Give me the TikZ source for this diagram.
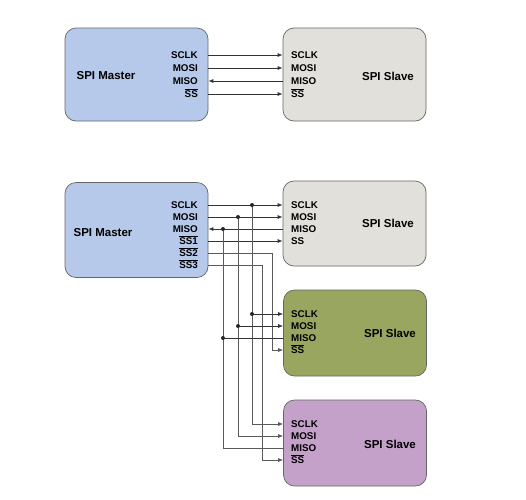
\documentclass[tikz,border=0pt]{standalone}
\usepackage{fontspec}
\setmainfont{Liberation Sans}
\usetikzlibrary{arrows.meta}
\definecolor{masterblue}{RGB}{182,201,234}
\definecolor{slavegrey}{RGB}{226,224,218}
\definecolor{slavegreen}{RGB}{152,166,96}
\definecolor{slavepurple}{RGB}{196,161,201}

\begin{document}
\begin{tikzpicture}[x=1pt,y=-1pt,>={Latex[length=5pt,width=4pt]},line cap=round,
  box/.style={draw=black!60,line width=0.7pt,rounded corners=11pt,minimum width=143pt,inner sep=0pt},
  title/.style={font=\fontsize{11.5}{13}\selectfont\bfseries,inner sep=0pt},
  pinr/.style={font=\fontsize{9.8}{11}\selectfont\bfseries,anchor=east,inner sep=0pt,text height=7pt,text depth=0pt},
  pinl/.style={pinr,anchor=west},
  wire/.style={black!80,line width=0.75pt},
  bus/.style={black!65,line width=0.7pt},
  dot/.style={fill=black!85}]
\useasboundingbox (0,0) rectangle (526,499);

% one master, one slave
\node[box,fill=masterblue,minimum height=93pt] (m1) at (136.5,74.5) {};
\node[box,fill=slavegrey,minimum height=93pt] (s1) at (354.5,74.5) {};
\node[title] (m1t) at (106,76) {SPI Master};
\node[title] (s1t) at (388,76) {SPI Slave};
\node[pinr] (m1a) at (198,55) {SCLK};
\node[pinr] (m1b) at (198,68) {MOSI};
\node[pinr] (m1c) at (198,81) {MISO};
\node[pinr] (m1d) at (198,94) {$\overline{\mbox{SS}}$};
\node[pinl] (s1a) at (291,55) {SCLK};
\node[pinl] (s1b) at (291,68) {MOSI};
\node[pinl] (s1c) at (291,81) {MISO};
\node[pinl] (s1d) at (291,94) {$\overline{\mbox{SS}}$};
\draw[wire,->] (m1.east |- m1a) -- (s1.west |- s1a);
\draw[wire,->] (m1.east |- m1b) -- (s1.west |- s1b);
\draw[wire,<-] (m1.east |- m1c) -- (s1.west |- s1c);
\draw[wire,->] (m1.east |- m1d) -- (s1.west |- s1d);

% one master, three slaves
\node[box,fill=masterblue,minimum height=95pt] (m2) at (136.5,230) {};
\node[box,fill=slavegrey,minimum height=85pt] (s2) at (354.5,223.5) {};
\node[box,fill=slavegreen,minimum height=86pt] (s3) at (355,333) {};
\node[box,fill=slavepurple,minimum height=86pt] (s4) at (355,443) {};
\node[title] (m2t) at (103,233) {SPI Master};
\node[title] (s2t) at (388,223) {SPI Slave};
\node[title] (s3t) at (390,333) {SPI Slave};
\node[title] (s4t) at (390,444) {SPI Slave};
\node[pinr] (m2a) at (198,205) {SCLK};
\node[pinr] (m2b) at (198,217) {MOSI};
\node[pinr] (m2c) at (198,229) {MISO};
\node[pinr] (m2d) at (198,241) {$\overline{\mbox{SS1}}$};
\node[pinr] (m2e) at (198,253) {$\overline{\mbox{SS2}}$};
\node[pinr] (m2f) at (198,265) {$\overline{\mbox{SS3}}$};
\node[pinl] (s2a) at (291,205) {SCLK};
\node[pinl] (s2b) at (291,217) {MOSI};
\node[pinl] (s2c) at (291,229) {MISO};
\node[pinl] (s2d) at (291,241) {SS};
\node[pinl] (s3a) at (291,314) {SCLK};
\node[pinl] (s3b) at (291,326) {MOSI};
\node[pinl] (s3c) at (291,338) {MISO};
\node[pinl] (s3d) at (291,350) {$\overline{\mbox{SS}}$};
\node[pinl] (s4a) at (291,424) {SCLK};
\node[pinl] (s4b) at (291,436) {MOSI};
\node[pinl] (s4c) at (291,448) {MISO};
\node[pinl] (s4d) at (291,460) {$\overline{\mbox{SS}}$};

\coordinate (xmiso) at (223,0);
\coordinate (xmosi) at (238,0);
\coordinate (xsclk) at (252,0);
\coordinate (xss3) at (262,0);
\coordinate (xss2) at (272,0);

\draw[wire,->] (m2.east |- m2a) -- (s2.west |- s2a);
\draw[wire,->] (m2.east |- m2b) -- (s2.west |- s2b);
\draw[wire,<-] (m2.east |- m2c) -- (s2.west |- s2c);
\draw[wire,->] (m2.east |- m2d) -- (s2.west |- s2d);
\draw[bus,->] (m2.east |- m2e) -- (xss2 |- m2e) -- (xss2 |- s3d) -- (s3.west |- s3d);
\draw[bus,->] (m2.east |- m2f) -- (xss3 |- m2f) -- (xss3 |- s4d) -- (s4.west |- s4d);
\draw[bus,->] (xsclk |- m2a) -- (xsclk |- s4a) -- (s4.west |- s4a);
\draw[bus,->] (xmosi |- m2b) -- (xmosi |- s4b) -- (s4.west |- s4b);
\draw[bus] (xmiso |- m2c) -- (xmiso |- s4c) -- (s4.west |- s4c);
\draw[wire,->] (xsclk |- s3a) -- (s3.west |- s3a);
\draw[wire,->] (xmosi |- s3b) -- (s3.west |- s3b);
\draw[wire] (xmiso |- s3c) -- (s3.west |- s3c);
\fill[dot] (xsclk |- m2a) circle (2pt);
\fill[dot] (xmosi |- m2b) circle (2pt);
\fill[dot] (xmiso |- m2c) circle (2pt);
\fill[dot] (xsclk |- s3a) circle (2pt);
\fill[dot] (xmosi |- s3b) circle (2pt);
\fill[dot] (xmiso |- s3c) circle (2pt);
\end{tikzpicture}
\end{document}
